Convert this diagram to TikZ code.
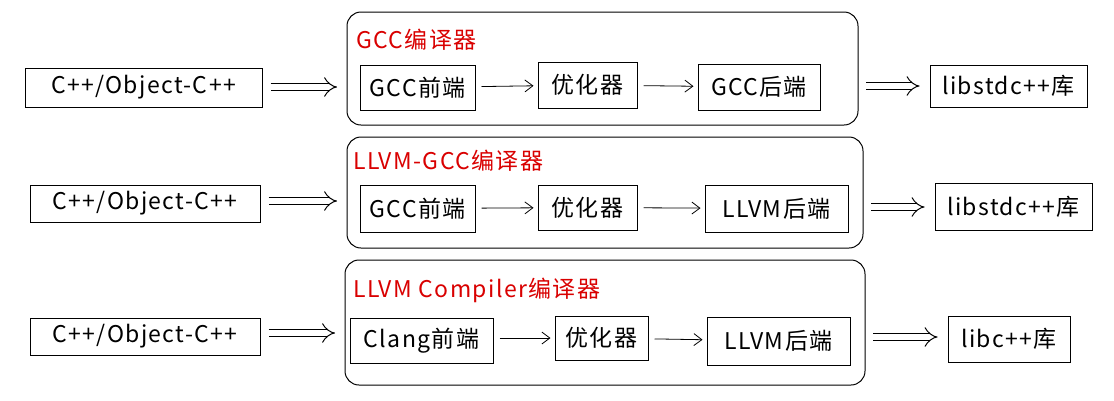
\documentclass[tikz,border=0pt]{standalone}
\usepackage{fontspec}
\setmainfont{Noto Sans CJK SC}[LetterSpace=6]
\usetikzlibrary{arrows.meta}
\begin{document}
\begin{tikzpicture}[x=1pt,y=-1pt,
 bx/.style={draw,line width=1pt,inner sep=0pt,font=\fontsize{23}{26}\selectfont},
 grp/.style={draw,line width=1pt,rounded corners=14pt},
 ttl/.style={text=red!85!black,anchor=west,inner sep=0pt,font=\fontsize{23}{26}\selectfont},
 ar/.style={-{Straight Barb[length=8pt,width=12pt]},line width=0.8pt,shorten >=4pt,shorten <=6pt},
 har/.style={double,double distance=6pt,line width=1pt,-{Implies[length=8pt]},shorten >=10pt,shorten <=8pt}]
\useasboundingbox (0,0) rectangle (1114,400);
\newcommand\bb[5]{\node[bx,minimum width=#4-#2,minimum height=#5-#3] (#1) at ({(#2+#4)/2},{(#3+#5)/2})}
% row 1
\bb{a1}{25}{68}{262}{107} {C++/Object-C++};
\draw[grp] (347,12) rectangle (858,125);
\node[ttl] (t1) at (356,40) {GCC编译器};
\bb{b1}{360}{65}{475}{110} {GCC前端};
\bb{c1}{538}{62}{637}{108} {优化器};
\bb{d1}{698}{64}{820}{110} {GCC后端};
\bb{e1}{930}{65}{1087}{107} {libstdc++库};
\coordinate (g1l) at (347,87); \coordinate (g1r) at (858,86);
\draw[har] (a1.east |- g1l) -- (g1l);
\draw[ar] (b1) -- (c1); \draw[ar] (c1) -- (d1);
\draw[har] (g1r) -- (e1.west |- g1r);
% row 2
\bb{a2}{30}{185}{260}{222} {C++/Object-C++};
\draw[grp] (347,137) rectangle (863,248);
\node[ttl] (t2) at (353,161) {LLVM-GCC编译器};
\bb{b2}{360}{185}{475}{232} {GCC前端};
\bb{c2}{538}{185}{637}{230} {优化器};
\bb{d2}{705}{185}{848}{232} {LLVM后端};
\bb{e2}{935}{183}{1092}{230} {libstdc++库};
\coordinate (g2l) at (347,201); \coordinate (g2r) at (863,207);
\draw[har] (a2.east |- g2l) -- (g2l);
\draw[ar] (b2) -- (c2); \draw[ar] (c2) -- (d2);
\draw[har] (g2r) -- (e2.west |- g2r);
% row 3
\bb{a3}{30}{318}{260}{355} {C++/Object-C++};
\draw[grp] (345,260) rectangle (865,385);
\node[ttl] (t3) at (353,290) {LLVM Compiler编译器};
\bb{b3}{350}{318}{493}{363} {Clang前端};
\bb{c3}{555}{316}{648}{360} {优化器};
\bb{d3}{707}{317}{850}{365} {LLVM后端};
\bb{e3}{948}{316}{1070}{362} {libc++库};
\coordinate (g3l) at (345,333); \coordinate (g3r) at (865,337);
\draw[har] (a3.east |- g3l) -- (g3l);
\draw[ar] (b3.east |- c3) -- (c3); \draw[ar] (c3) -- (d3);
\draw[har] (g3r) -- (e3.west |- g3r);
\end{tikzpicture}
\end{document}
